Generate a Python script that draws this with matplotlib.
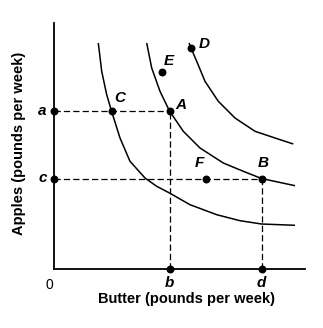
import matplotlib.pyplot as plt

plt.rcParams['font.family'] = ['Liberation Sans', 'DejaVu Sans']

# indifference curves (butter, apples)
curve1_x = [4.43, 4.77, 5.27, 5.75, 6.6, 7.6, 9.1, 10.27, 11.55, 13.6, 16.27, 18.6, 20.75, 24.1]
curve1_y = [22.6, 19.77, 17.43, 15.8, 13.1, 10.77, 9.1, 8.27, 7.6, 6.43, 5.43, 4.83, 4.5, 4.37]
curve2_x = [9.27, 9.77, 10.6, 11.55, 12.93, 14.6, 16.93, 18.93, 20.75, 24.1]
curve2_y = [22.6, 20.1, 17.77, 15.8, 13.77, 12.1, 10.6, 9.77, 9.05, 8.33]
curve3_x = [13.5, 13.7, 14.27, 15.1, 16.43, 18.1, 20.1, 22.1, 23.93]
curve3_y = [22.6, 22.1, 20.77, 18.77, 16.77, 15.1, 13.77, 13.1, 12.5]

# bundles
a_val, c_val = 15.8, 9.05
b_val, d_val = 11.55, 20.75
points = {
    "C": (5.75, 15.8),
    "A": (11.55, 15.8),
    "B": (20.75, 9.05),
    "F": (15.2, 9.05),
    "E": (10.8, 19.7),
    "D": (13.7, 22.1),
}
label_offsets = {
    "C": (6, 9.5),
    "A": (8, 4.5),
    "B": (1.5, 11),
    "F": (-4.5, 11),
    "E": (5, 8),
    "D": (9.5, 3),
}

fig = plt.figure(figsize=(3.23, 3.28), dpi=100)
ax = fig.add_axes([54 / 323, 59 / 328, 251 / 323, 246 / 328])
ax.set_xlim(0, 25.1)
ax.set_ylim(0, 24.6)

for s in ["top", "right"]:
    ax.spines[s].set_visible(False)
for s in ["left", "bottom"]:
    ax.spines[s].set_linewidth(1.3)
ax.set_xticks([])
ax.set_yticks([])

for cx, cy in [(curve1_x, curve1_y), (curve2_x, curve2_y), (curve3_x, curve3_y)]:
    ax.plot(cx, cy, color="black", lw=1.1, solid_capstyle="butt", solid_joinstyle="round")

dash = dict(color="black", lw=0.9, linestyle=(0, (5, 2.5)))
ax.plot([0, points["A"][0]], [a_val, a_val], **dash)
ax.plot([b_val, b_val], [0, points["A"][1]], **dash)
ax.plot([0, points["B"][0]], [c_val, c_val], **dash)
ax.plot([d_val, d_val], [0, points["B"][1]], **dash)

dot = dict(color="black", s=22, zorder=5, clip_on=False)
for name, (px, py) in points.items():
    ax.scatter([px], [py], **dot)
    ax.annotate(name, (px, py), xytext=label_offsets[name], textcoords="offset points",
                ha="center", va="center", fontsize=11, fontweight="bold", style="italic")

ax.scatter([0, 0], [a_val, c_val], **dot)
ax.scatter([b_val, d_val], [0, 0], **dot)

lab = dict(fontsize=11, fontweight="bold", style="italic", ha="center", va="center")
ax.annotate("a", (0, a_val), xytext=(-8.5, 0), textcoords="offset points", **lab)
ax.annotate("c", (0, c_val), xytext=(-8, 0), textcoords="offset points", **lab)
ax.annotate("b", (b_val, 0), xytext=(0, -10), textcoords="offset points", **lab)
ax.annotate("d", (d_val, 0), xytext=(0, -10), textcoords="offset points", **lab)
ax.annotate("0", (0, 0), xytext=(-3.5, -11.5), textcoords="offset points",
            ha="center", va="center", fontsize=10)

fig.text(187 / 323, 1 - 299 / 328, "Butter (pounds per week)", ha="center", va="center",
         fontsize=10.5, fontweight="bold")
fig.text(19 / 323, 1 - 143 / 328, "Apples (pounds per week)", ha="center", va="center",
         rotation=90, fontsize=10.5, fontweight="bold")

fig.savefig("out.png", dpi=100)
